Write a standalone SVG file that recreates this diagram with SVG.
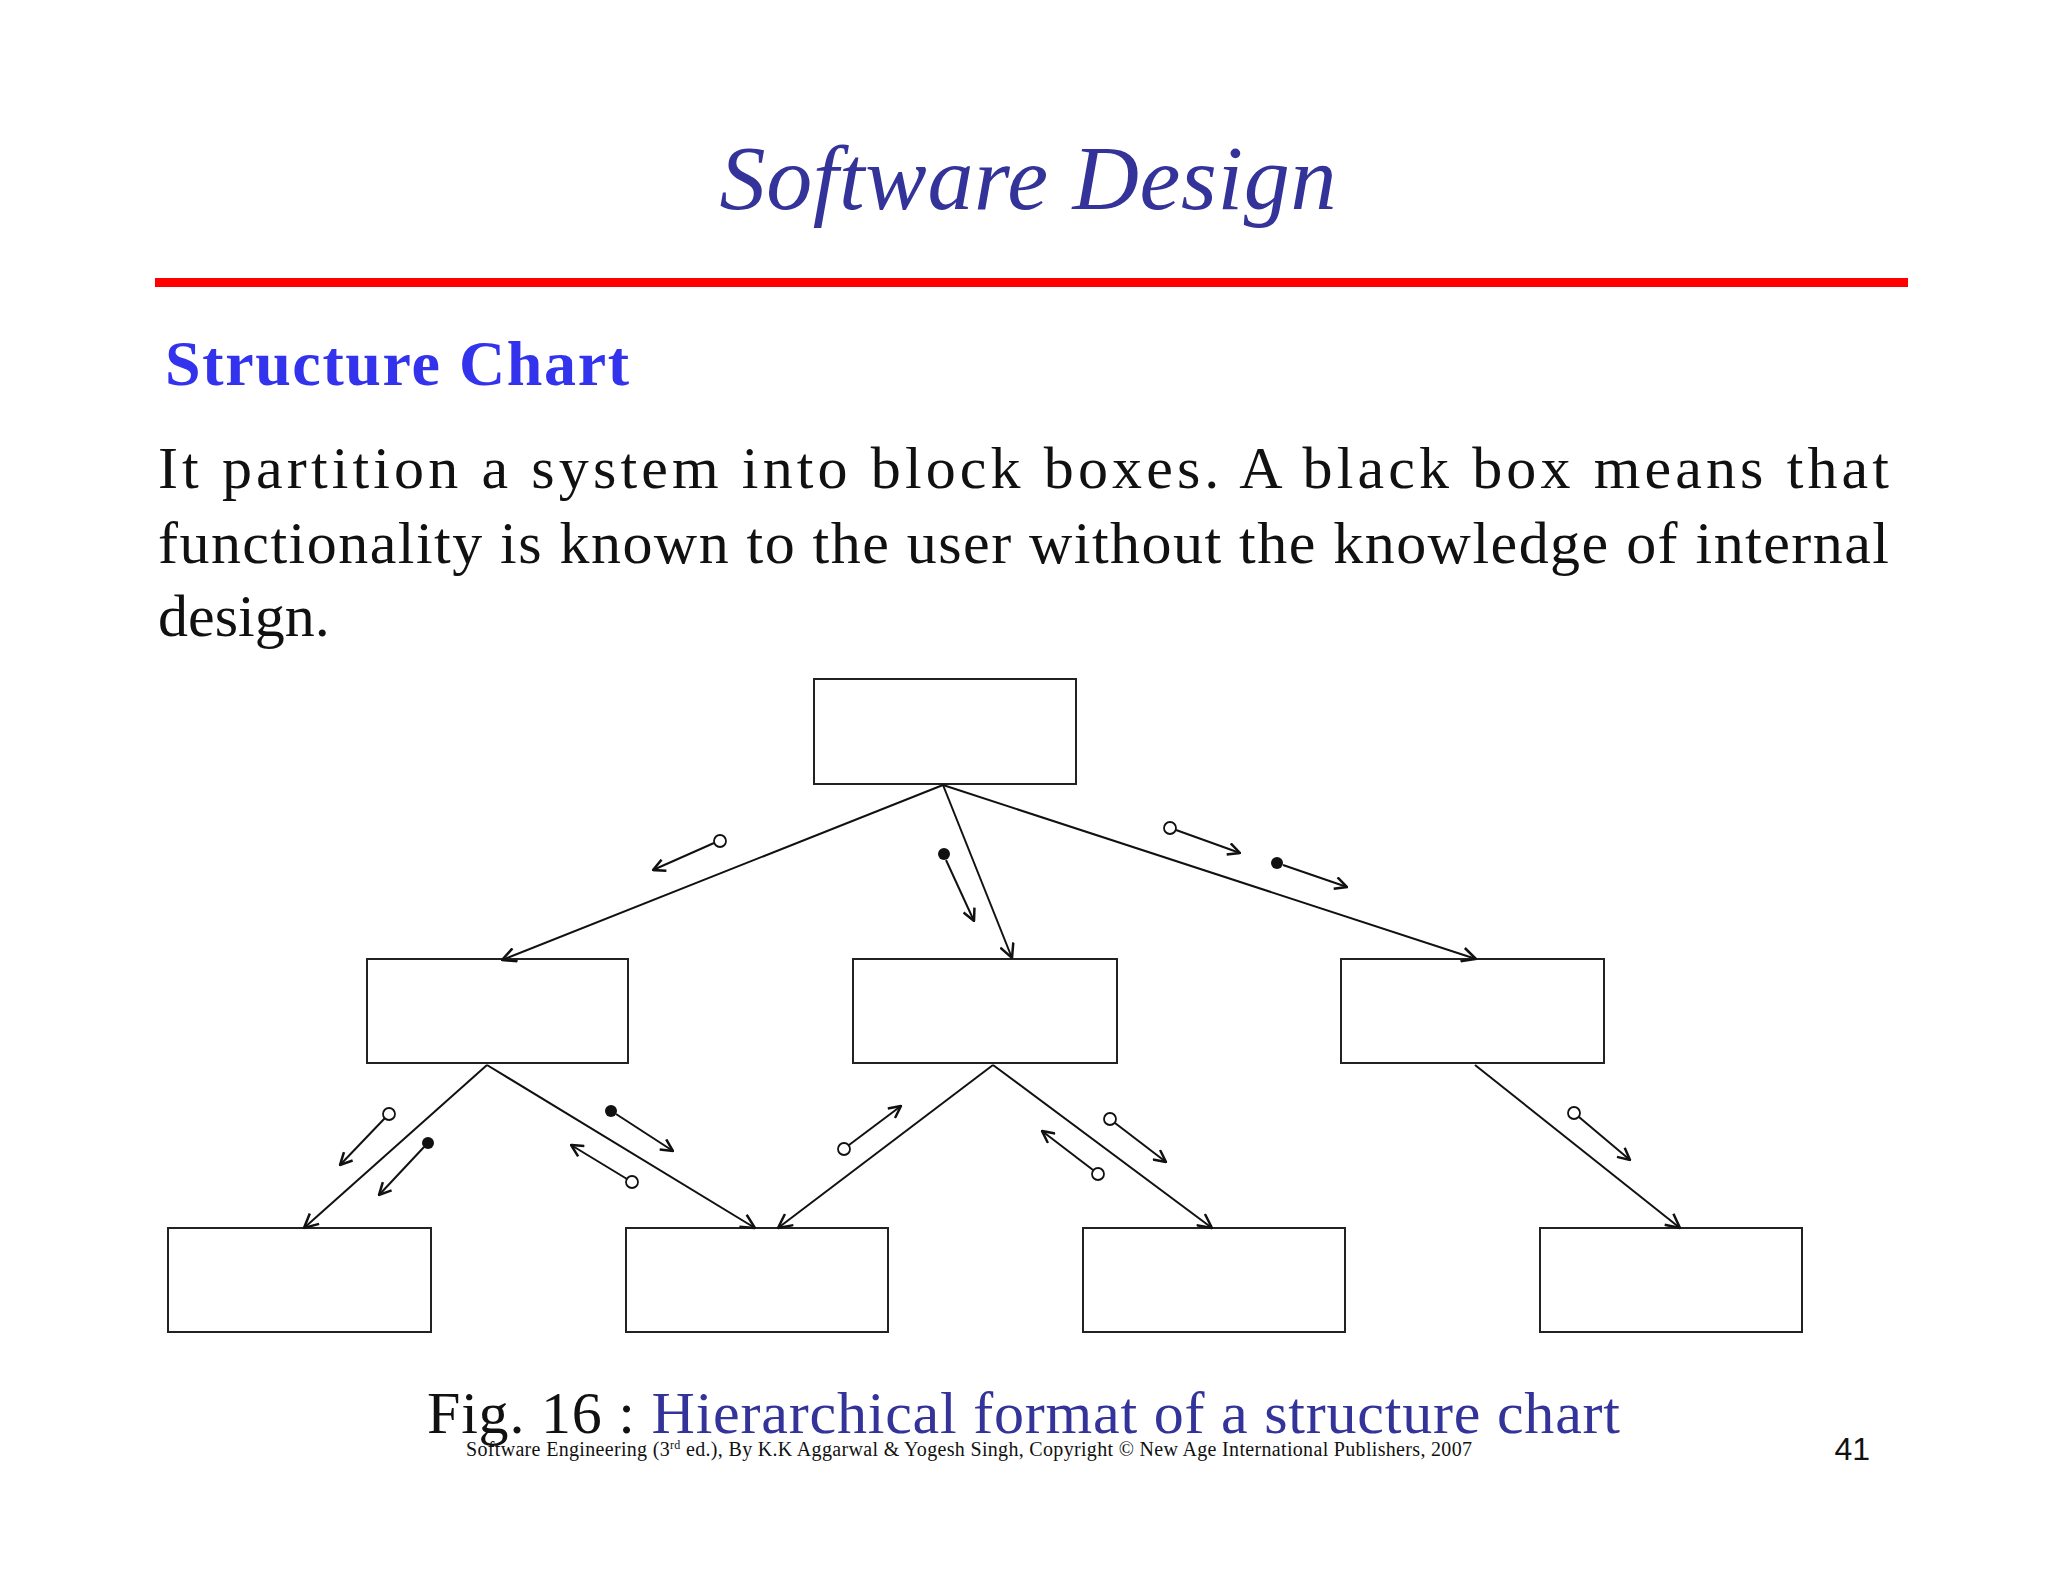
<svg xmlns="http://www.w3.org/2000/svg" width="2048" height="1582" viewBox="0 0 2048 1582">
<defs>
<style>
.box{fill:#fff;stroke:#222;stroke-width:2}
.ln{stroke:#111;stroke-width:2;fill:none}
.serif{font-family:"Liberation Serif","Times New Roman",serif}
</style>
<marker id="ah" viewBox="0 0 14 14" refX="13" refY="7" markerWidth="14" markerHeight="14" markerUnits="userSpaceOnUse" orient="auto">
<path d="M1,1 L13,7 L1,13" fill="none" stroke="#111" stroke-width="2.5"/>
</marker>
<marker id="ah2" viewBox="0 0 16 16" refX="15" refY="8" markerWidth="16" markerHeight="16" markerUnits="userSpaceOnUse" orient="auto">
<path d="M1,1 L15,8 L1,15" fill="none" stroke="#111" stroke-width="2.5"/>
</marker>
</defs>
<rect width="2048" height="1582" fill="#fff"/>
<text x="1028" y="209" text-anchor="middle" class="serif" font-style="italic" font-size="92" fill="#333399" textLength="617">Software Design</text>
<rect x="155" y="278" width="1753" height="9" fill="#ff0000"/>
<text x="165" y="385" class="serif" font-weight="bold" font-size="64" fill="#3333ee" textLength="464">Structure Chart</text>
<g class="serif" font-size="60" fill="#111">
<text x="158" y="488" textLength="1731" lengthAdjust="spacing">It partition a system into block boxes. A black box means that</text>
<text x="158" y="563" textLength="1731" lengthAdjust="spacing">functionality is known to the user without the knowledge of internal</text>
<text x="158" y="636">design.</text>
</g>
<g id="n0"><rect class="box" x="814" y="679" width="262" height="105"/></g>
<g id="n1"><rect class="box" x="367" y="959" width="261" height="104"/></g>
<g id="n2"><rect class="box" x="853" y="959" width="264" height="104"/></g>
<g id="n3"><rect class="box" x="1341" y="959" width="263" height="104"/></g>
<g id="n4"><rect class="box" x="168" y="1228" width="263" height="104"/></g>
<g id="n5"><rect class="box" x="626" y="1228" width="262" height="104"/></g>
<g id="n6"><rect class="box" x="1083" y="1228" width="262" height="104"/></g>
<g id="n7"><rect class="box" x="1540" y="1228" width="262" height="104"/></g>
<g id="connectors">
<line class="ln" x1="943" y1="785" x2="502" y2="960" marker-end="url(#ah2)"/>
<line class="ln" x1="943" y1="785" x2="1012" y2="958" marker-end="url(#ah2)"/>
<line class="ln" x1="943" y1="785" x2="1476" y2="959" marker-end="url(#ah2)"/>
<line class="ln" x1="487" y1="1065" x2="304" y2="1228" marker-end="url(#ah2)"/>
<line class="ln" x1="487" y1="1065" x2="755" y2="1228" marker-end="url(#ah2)"/>
<line class="ln" x1="993" y1="1065" x2="778" y2="1228" marker-end="url(#ah2)"/>
<line class="ln" x1="993" y1="1065" x2="1212" y2="1228" marker-end="url(#ah2)"/>
<line class="ln" x1="1475" y1="1065" x2="1680" y2="1228" marker-end="url(#ah2)"/>
<g id="couples">
<line class="ln" x1="714" y1="843" x2="653" y2="870" marker-end="url(#ah)"/><circle cx="720" cy="841" r="6" fill="#fff" stroke="#111" stroke-width="1.8"/>
<line class="ln" x1="946" y1="860" x2="974" y2="921" marker-end="url(#ah)"/><circle cx="944" cy="854" r="6" fill="#111"/>
<line class="ln" x1="1176" y1="830" x2="1240" y2="853" marker-end="url(#ah)"/><circle cx="1170" cy="828" r="6" fill="#fff" stroke="#111" stroke-width="1.8"/>
<line class="ln" x1="1283" y1="865" x2="1347" y2="887" marker-end="url(#ah)"/><circle cx="1277" cy="863" r="6" fill="#111"/>
<line class="ln" x1="385" y1="1118" x2="340" y2="1165" marker-end="url(#ah)"/><circle cx="389" cy="1114" r="6" fill="#fff" stroke="#111" stroke-width="1.8"/>
<line class="ln" x1="424" y1="1147" x2="379" y2="1195" marker-end="url(#ah)"/><circle cx="428" cy="1143" r="6" fill="#111"/>
<line class="ln" x1="616" y1="1114" x2="673" y2="1151" marker-end="url(#ah)"/><circle cx="611" cy="1111" r="6" fill="#111"/>
<line class="ln" x1="627" y1="1179" x2="571" y2="1145" marker-end="url(#ah)"/><circle cx="632" cy="1182" r="6" fill="#fff" stroke="#111" stroke-width="1.8"/>
<line class="ln" x1="849" y1="1145" x2="901" y2="1106" marker-end="url(#ah)"/><circle cx="844" cy="1149" r="6" fill="#fff" stroke="#111" stroke-width="1.8"/>
<line class="ln" x1="1115" y1="1123" x2="1166" y2="1162" marker-end="url(#ah)"/><circle cx="1110" cy="1119" r="6" fill="#fff" stroke="#111" stroke-width="1.8"/>
<line class="ln" x1="1093" y1="1170" x2="1042" y2="1131" marker-end="url(#ah)"/><circle cx="1098" cy="1174" r="6" fill="#fff" stroke="#111" stroke-width="1.8"/>
<line class="ln" x1="1579" y1="1117" x2="1630" y2="1160" marker-end="url(#ah)"/><circle cx="1574" cy="1113" r="6" fill="#fff" stroke="#111" stroke-width="1.8"/>
</g>
</g>
<text x="427" y="1433" class="serif" font-size="60" textLength="1193"><tspan fill="#111">Fig. 16 : </tspan><tspan fill="#333399">Hierarchical format of a structure chart</tspan></text>
<text x="466" y="1456" class="serif" font-size="20" fill="#111" textLength="1006">Software Engineering (3<tspan font-size="12" dy="-7">rd</tspan><tspan dy="7"> ed.), By K.K Aggarwal &amp; Yogesh Singh, Copyright © New Age International Publishers, 2007</tspan></text>
<text x="1870" y="1460" text-anchor="end" font-family="Liberation Sans, Arial, sans-serif" font-size="32" fill="#111">41</text>
</svg>
